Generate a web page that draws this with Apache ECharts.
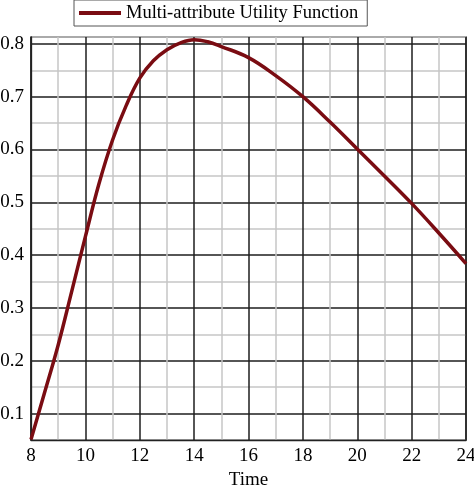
<!DOCTYPE html>
<html>
<head>
<meta charset="utf-8">
<script src="https://cdn.jsdelivr.net/npm/echarts@6/dist/echarts.min.js"></script>
<style>html,body{margin:0;padding:0;background:#fff}#c{width:474px;height:488px}</style>
</head>
<body>
<div id="c"></div>
<script>
const seriesName = 'Multi-attribute Utility Function';
const timeValues = [8, 8.5, 9, 9.5, 10, 10.5, 11, 11.5, 12, 12.5, 13, 13.5, 14, 14.5, 15, 16, 17, 18, 19, 20, 21, 22, 23, 24];
const utilityValues = [0.051, 0.14, 0.23, 0.332, 0.435, 0.535, 0.618, 0.683, 0.735, 0.768, 0.789, 0.802, 0.808, 0.804, 0.795, 0.774, 0.740, 0.700, 0.652, 0.601, 0.550, 0.498, 0.442, 0.384];
const xTickLabels = ['8', '10', '12', '14', '16', '18', '20', '22', '24'];
const yTickLabels = ['0.1', '0.2', '0.3', '0.4', '0.5', '0.6', '0.7', '0.8'];

const font = 'Liberation Serif';
const chart = echarts.init(document.getElementById('c'));
chart.setOption({
  animation: false,
  textStyle: { fontFamily: font },
  legend: {
    data: [seriesName],
    left: 74, top: 0,
    icon: 'rect',
    itemWidth: 42, itemHeight: 4,
    padding: [3, 9, 3, 5],
    borderColor: '#555', borderWidth: 1,
    textStyle: { fontFamily: font, fontSize: 18.5, color: '#000', lineHeight: 20 }
  },
  grid: { left: 31, right: 8, top: 37, bottom: 48, containLabel: false, outerBoundsMode: 'none', show: true, borderColor: '#222', borderWidth: 1.3 },
  xAxis: {
    type: 'value', min: 8, max: 24, interval: 1,
    name: 'Time', nameLocation: 'middle', nameGap: 30,
    nameTextStyle: { fontFamily: font, fontSize: 19, color: '#000' },
    axisLine: { show: true, lineStyle: { color: '#222', width: 1.3 } },
    axisTick: { show: false },
    axisLabel: {
      margin: 7, fontFamily: font, fontSize: 19, color: '#000',
      formatter: v => xTickLabels.includes(String(Math.round(v))) && Math.abs(v - Math.round(v)) < 1e-6 ? String(Math.round(v)) : ''
    },
    splitLine: { show: true, lineStyle: { color: ['#1e1e1e', '#c6c6c6'], width: 1.5 } }
  },
  yAxis: {
    type: 'value', min: 0.05, max: 0.813, interval: 0.05,
    axisLine: { show: true, lineStyle: { color: '#222', width: 1.3 } },
    axisTick: { show: false },
    axisLabel: {
      margin: 7, fontFamily: font, fontSize: 19, color: '#000',
      formatter: v => { const s = (Math.round(v * 10) / 10).toFixed(1); return Math.abs(v * 10 - Math.round(v * 10)) < 1e-6 && yTickLabels.includes(s) ? s : ''; }
    },
    splitLine: { show: true, lineStyle: { color: ['#c6c6c6', '#1e1e1e'], width: 1.5 } }
  },
  series: [{
    name: seriesName, type: 'line', smooth: 0.4, symbol: 'none',
    lineStyle: { color: '#7a0c12', width: 3.5 },
    itemStyle: { color: '#7a0c12' },
    data: timeValues.map((t, i) => [t, utilityValues[i]])
  }]
});
</script>
</body>
</html>
